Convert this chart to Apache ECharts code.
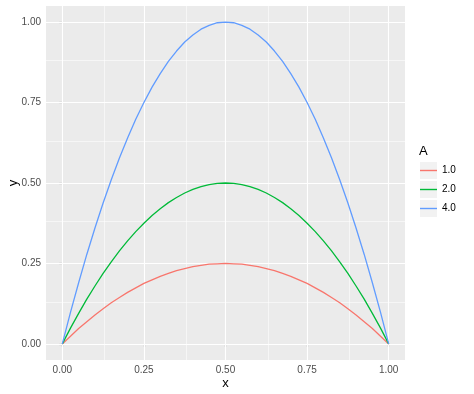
<!DOCTYPE html>
<html>
<head>
<meta charset="utf-8">
<script src="https://cdn.jsdelivr.net/npm/echarts@6/dist/echarts.min.js"></script>
<style>html,body{margin:0;padding:0;background:#fff}#c{width:474px;height:394px}</style>
</head>
<body>
<div id="c"></div>
<script>
const xs = [0,0.025,0.05,0.075,0.1,0.125,0.15,0.175,0.2,0.225,0.25,0.275,0.3,0.325,0.35,0.375,0.4,0.425,0.45,0.475,0.5,0.525,0.55,0.575,0.6,0.625,0.65,0.675,0.7,0.725,0.75,0.775,0.8,0.825,0.85,0.875,0.9,0.925,0.95,0.975,1];
const a1 = [0,0.024,0.048,0.069,0.090,0.109,0.128,0.144,0.160,0.174,0.188,0.199,0.210,0.219,0.228,0.234,0.240,0.244,0.248,0.249,0.250,0.249,0.248,0.244,0.240,0.234,0.228,0.219,0.210,0.199,0.188,0.174,0.160,0.144,0.128,0.109,0.090,0.069,0.048,0.024,0];
const a2 = [0,0.049,0.095,0.139,0.180,0.219,0.255,0.289,0.320,0.349,0.375,0.399,0.420,0.439,0.455,0.469,0.480,0.489,0.495,0.499,0.500,0.499,0.495,0.489,0.480,0.469,0.455,0.439,0.420,0.399,0.375,0.349,0.320,0.289,0.255,0.219,0.180,0.139,0.095,0.049,0];
const a4 = [0,0.098,0.190,0.278,0.360,0.438,0.510,0.578,0.640,0.698,0.750,0.798,0.840,0.878,0.910,0.938,0.960,0.978,0.990,0.998,1.000,0.998,0.990,0.978,0.960,0.938,0.910,0.878,0.840,0.798,0.750,0.698,0.640,0.578,0.510,0.438,0.360,0.278,0.190,0.098,0];
const seriesNames = ['1.0','2.0','4.0'];
const seriesValues = [a1, a2, a4];
const xTicks = [0,0.25,0.5,0.75,1];
const yTicks = [0,0.25,0.5,0.75,1];
const xMinor = [0.125,0.375,0.625,0.875];
const yMinor = [0.125,0.375,0.625,0.875];

const colors = ['#F8766D','#00BA38','#619CFF'];
const font = 'Liberation Sans, Arial, sans-serif';
const chart = echarts.init(document.getElementById('c'), null, {renderer:'canvas'});

const gridLines = [];
xMinor.forEach(v => gridLines.push({xAxis: v, lineStyle:{width:0.55}}));
yMinor.forEach(v => gridLines.push({yAxis: v, lineStyle:{width:0.55}}));
xTicks.forEach(v => gridLines.push({xAxis: v, lineStyle:{width:1.1}}));
yTicks.forEach(v => gridLines.push({yAxis: v, lineStyle:{width:1.1}}));

const series = [{
  name: '_grid', type: 'line', data: [[0,0]], symbol: 'none', z: 1,
  lineStyle: {opacity: 0}, silent: true, animation: false,
  markLine: {silent: true, z: 1, symbol: 'none', label: {show: false}, animation: false,
    emphasis: {disabled: true},
    lineStyle: {color: '#FFFFFF', type: 'solid'}, data: gridLines}
}];
seriesNames.forEach((n, i) => {
  series.push({
    name: n, type: 'line', z: 6, symbol: 'none', showSymbol: false,
    color: colors[i], lineStyle: {width: 1.3, color: colors[i]},
    data: xs.map((x, j) => [x, seriesValues[i][j]]), animation: false
  });
});

chart.setOption({
  animation: false,
  backgroundColor: '#FFFFFF',
  grid: {left: 46, top: 6, width: 359, height: 354, show: true, backgroundColor: '#EBEBEB', borderWidth: 0,
    outerBoundsMode: 'none', containLabel: false},
  xAxis: {
    type: 'value', min: -0.05, max: 1.05,
    name: 'x', nameLocation: 'middle', nameGap: 17, nameMoveOverlap: false,
    nameTextStyle: {fontFamily: font, fontSize: 13, color: '#000'},
    axisLine: {show: false},
    axisTick: {show: true, customValues: xTicks, length: 3, lineStyle: {color: '#333', width: 1.1}},
    axisLabel: {customValues: xTicks, formatter: v => v.toFixed(2), fontFamily: font, fontSize: 10, color: '#4D4D4D', margin: 5},
    splitLine: {show: false}
  },
  yAxis: {
    type: 'value', min: -0.05, max: 1.05,
    name: 'y', nameLocation: 'middle', nameGap: 26, nameRotate: 90, nameMoveOverlap: false,
    nameTextStyle: {fontFamily: font, fontSize: 13, color: '#000'},
    axisLine: {show: false},
    axisTick: {show: true, customValues: yTicks, length: 3, lineStyle: {color: '#333', width: 1.1}},
    axisLabel: {customValues: yTicks, formatter: v => v.toFixed(2), fontFamily: font, fontSize: 10, color: '#4D4D4D', margin: 5},
    splitLine: {show: false}
  },
  title: {text: 'A', left: 419, top: 145, padding: 0, textStyle: {fontFamily: font, fontSize: 13, fontWeight: 'normal', color: '#000'}},
  legend: {
    data: seriesNames, orient: 'vertical', left: 420, top: 162, padding: 0,
    itemWidth: 17, itemHeight: 1.4, itemGap: 2, icon: 'rect',
    textStyle: {fontFamily: font, fontSize: 10, color: '#000', lineHeight: 17},
    selectedMode: false
  },
  graphic: [0,1,2].map(i => ({type: 'rect', z: 0, silent: true,
    shape: {x: 420, y: 162 + i * 19, width: 17, height: 17}, style: {fill: '#F2F2F2'}})),
  series: series
});
</script>
</body>
</html>
